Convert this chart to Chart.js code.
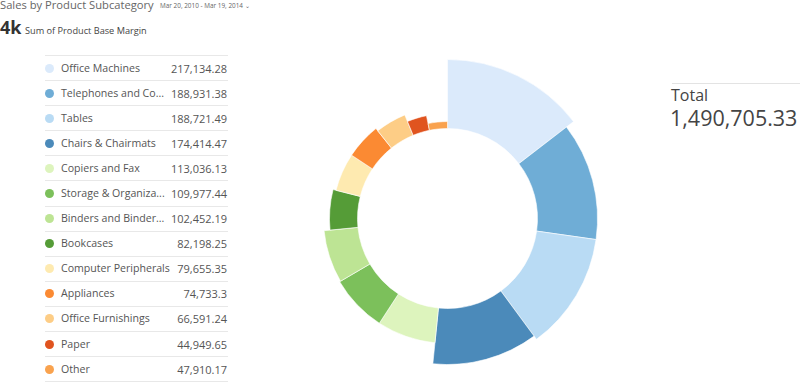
<!DOCTYPE html>
<html>
<head>
<meta charset="utf-8">
<script src="https://cdn.jsdelivr.net/npm/chart.js@4/dist/chart.umd.min.js"></script>
<style>
  html, body { margin: 0; padding: 0; background: #fff; width: 800px; height: 383px; overflow: hidden; font-family: "Open Sans", sans-serif; }
  #title { position: absolute; left: 0; top: -3px; font-size: 11.2px; line-height: 15px; color: #666; white-space: nowrap; }
  #dates { position: absolute; left: 160px; top: 1px; font-size: 6.4px; line-height: 10px; color: #666; white-space: nowrap; }
  #big { position: absolute; left: 0; top: 15px; font-size: 18px; line-height: 24px; font-weight: 700; color: #333; }
  #measure { position: absolute; left: 25px; top: 23.5px; font-size: 9.2px; line-height: 13px; color: #444; white-space: nowrap; }
  #legend { position: absolute; left: 45px; top: 55px; width: 183px; }
  .row { position: relative; height: 24.1px; border-top: 1px solid #e8e8e8; color: #555; }
  .row:last-child { border-bottom: 1px solid #e8e8e8; }
  .dot { position: absolute; left: 0; top: 7.5px; width: 9px; height: 9px; border-radius: 50%; }
  .lab { position: absolute; left: 16px; top: 4.5px; font-size: 10.6px; white-space: nowrap; }
  .val { position: absolute; right: 1px; top: 4.5px; font-size: 11px; white-space: nowrap; }
  #totline { position: absolute; left: 672px; top: 83px; width: 128px; border-top: 1px solid #e3e3e3; }
  #totlab { position: absolute; left: 671px; top: 84px; font-size: 16px; color: #444; }
  #totval { position: absolute; left: 670px; top: 103px; font-size: 21.5px; color: #444; white-space: nowrap; }
  #wrap { position: absolute; left: 288px; top: 59px; width: 319px; height: 319px; }
</style>
</head>
<body>
<div id="title">Sales by Product Subcategory</div>
<div id="dates">Mar 20, 2010 - Mar 19, 2014 &#8964;</div>
<div id="big">4k</div>
<div id="measure">Sum of Product Base Margin</div>
<div id="legend"></div>
<div id="totline"></div>
<div id="totlab">Total</div>
<div id="totval">1,490,705.33</div>
<div id="wrap"><canvas id="c" width="319" height="319"></canvas></div>
<script>
const categories = ["Office Machines","Telephones and Co...","Tables","Chairs & Chairmats","Copiers and Fax","Storage & Organiza...","Binders and Binder...","Bookcases","Computer Peripherals","Appliances","Office Furnishings","Paper","Other"];
const sales = [217134.28,188931.38,188721.49,174414.47,113036.13,109977.44,102452.19,82198.25,79655.35,74733.3,66591.24,44949.65,47910.17];
const salesLabels = ["217,134.28","188,931.38","188,721.49","174,414.47","113,036.13","109,977.44","102,452.19","82,198.25","79,655.35","74,733.3","66,591.24","44,949.65","47,910.17"];
const baseMargin = [586,510,510,476,297,297,289,238,212,212,187,127,59];
const colors = ["#dbeafb","#6fadd6","#b9dbf4","#4b8aba","#ddf4bd","#7cc05b","#bde494","#559c37","#feeab0","#fb8a33","#fdcd86","#e0541f","#f9a24e"];
const totalLabel = "1,490,705.33";

const legend = document.getElementById('legend');
categories.forEach((c, i) => {
  const r = document.createElement('div');
  r.className = 'row';
  r.innerHTML = '<span class="dot" style="background:' + colors[i] + '"></span><span class="lab">' + c.replace(/&/g,'&amp;') + '</span><span class="val">' + salesLabels[i] + '</span>';
  legend.appendChild(r);
});
document.getElementById('totval').textContent = totalLabel;

const INNER = 90, OUTER = 159;
const maxMargin = Math.max(...baseMargin);
const radiusByMargin = {
  id: 'radiusByMargin',
  afterDatasetUpdate(chart) {
    const meta = chart.getDatasetMeta(0);
    meta.data.forEach((arc, i) => {
      arc.innerRadius = INNER;
      arc.outerRadius = INNER + (OUTER - INNER) * baseMargin[i] / maxMargin;
    });
  }
};

new Chart(document.getElementById('c'), {
  type: 'doughnut',
  data: {
    labels: categories,
    datasets: [{ data: sales, backgroundColor: colors, borderWidth: 0.6, borderColor: '#ffffff' }]
  },
  options: {
    responsive: false,
    animation: false,
    radius: OUTER,
    cutout: INNER,
    layout: { padding: 0 },
    plugins: { legend: { display: false }, tooltip: { enabled: false } }
  },
  plugins: [radiusByMargin]
});
</script>
</body>
</html>
